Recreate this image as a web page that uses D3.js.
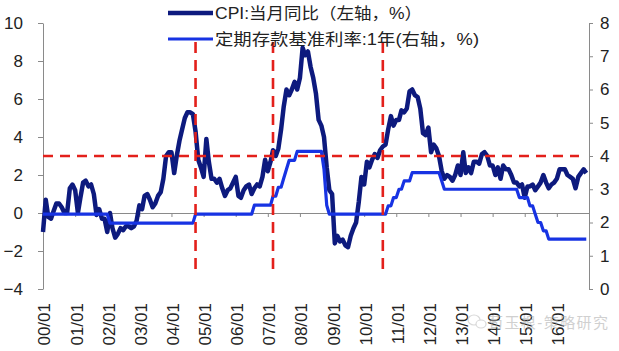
<!DOCTYPE html>
<html>
<head>
<meta charset="utf-8">
<script src="https://cdn.jsdelivr.net/npm/d3@7"></script>
<style>
  body { margin: 0; background: #fff; }
  svg { display: block; }
  text { font-family: "Liberation Sans", Arial, "Noto Sans CJK SC", sans-serif; }
</style>
</head>
<body>
<div id="chart"></div>
<script>
// Monthly series, starting 2000/01 (one row per year)
const firstMonth = "2000-01";

// CPI: year-on-year, % (left axis)
const cpi = [
  -1.0, 0.7, -0.2, -0.3, 0.1, 0.5, 0.5, 0.3, 0.0, 0.0, 1.3, 1.5,
  1.2, 0.0, 0.8, 1.6, 1.7, 1.4, 1.5, 1.0, -0.1, 0.2, -0.3, -0.3,
  -1.0, 0.0, -0.8, -1.3, -1.1, -0.8, -0.9, -0.7, -0.7, -0.8, -0.7, -0.4,
  0.4, 0.2, 0.9, 1.0, 0.7, 0.3, 0.5, 0.9, 1.1, 1.8, 3.0, 3.2,
  3.2, 2.1, 3.0, 3.8, 4.4, 5.0, 5.3, 5.3, 5.2, 4.3, 2.8, 2.4,
  1.9, 3.9, 2.7, 1.8, 1.8, 1.6, 1.8, 1.3, 0.9, 1.2, 1.3, 1.6,
  1.9, 0.9, 0.8, 1.2, 1.4, 1.5, 1.0, 1.3, 1.5, 1.4, 1.9, 2.8,
  2.2, 2.7, 3.3, 3.0, 3.4, 4.4, 5.6, 6.5, 6.2, 6.5, 6.9, 6.5,
  7.1, 8.7, 8.3, 8.5, 7.7, 7.1, 6.3, 4.9, 4.6, 4.0, 2.4, 1.2,
  1.0, -1.6, -1.2, -1.5, -1.4, -1.7, -1.8, -1.2, -0.8, -0.5, 0.6, 1.9,
  1.5, 2.7, 2.4, 2.8, 3.1, 2.9, 3.3, 3.5, 3.6, 4.4, 5.1, 4.6,
  4.9, 4.9, 5.4, 5.3, 5.5, 6.4, 6.5, 6.2, 6.1, 5.5, 4.2, 4.1,
  4.5, 3.2, 3.6, 3.4, 3.0, 2.2, 1.8, 2.0, 1.9, 1.7, 2.0, 2.5,
  2.0, 3.2, 2.1, 2.4, 2.1, 2.7, 2.7, 2.6, 3.1, 3.2, 3.0, 2.5,
  2.5, 2.0, 2.4, 1.8, 2.5, 2.3, 2.3, 2.0, 1.6, 1.6, 1.4, 1.5,
  0.8, 1.4, 1.4, 1.5, 1.2, 1.4, 1.6, 2.0, 1.6, 1.3, 1.5, 1.6,
  1.8, 2.3, 2.3, 2.3, 2.0, 1.9, 1.8, 1.3, 1.9, 2.1, 2.3, 2.1
];

// 1-year time deposit benchmark rate, % (right axis)
const depositRate = [
  2.25, 2.25, 2.25, 2.25, 2.25, 2.25, 2.25, 2.25, 2.25, 2.25, 2.25, 2.25,
  2.25, 2.25, 2.25, 2.25, 2.25, 2.25, 2.25, 2.25, 2.25, 2.25, 2.25, 2.25,
  2.25, 1.98, 1.98, 1.98, 1.98, 1.98, 1.98, 1.98, 1.98, 1.98, 1.98, 1.98,
  1.98, 1.98, 1.98, 1.98, 1.98, 1.98, 1.98, 1.98, 1.98, 1.98, 1.98, 1.98,
  1.98, 1.98, 1.98, 1.98, 1.98, 1.98, 1.98, 1.98, 1.98, 2.25, 2.25, 2.25,
  2.25, 2.25, 2.25, 2.25, 2.25, 2.25, 2.25, 2.25, 2.25, 2.25, 2.25, 2.25,
  2.25, 2.25, 2.25, 2.25, 2.25, 2.25, 2.25, 2.52, 2.52, 2.52, 2.52, 2.52,
  2.52, 2.52, 2.79, 2.79, 3.06, 3.06, 3.33, 3.60, 3.87, 3.87, 3.87, 4.14,
  4.14, 4.14, 4.14, 4.14, 4.14, 4.14, 4.14, 4.14, 4.14, 3.60, 2.52, 2.25,
  2.25, 2.25, 2.25, 2.25, 2.25, 2.25, 2.25, 2.25, 2.25, 2.25, 2.25, 2.25,
  2.25, 2.25, 2.25, 2.25, 2.25, 2.25, 2.25, 2.25, 2.25, 2.50, 2.50, 2.75,
  2.75, 3.00, 3.00, 3.25, 3.25, 3.25, 3.50, 3.50, 3.50, 3.50, 3.50, 3.50,
  3.50, 3.50, 3.50, 3.50, 3.50, 3.25, 3.00, 3.00, 3.00, 3.00, 3.00, 3.00,
  3.00, 3.00, 3.00, 3.00, 3.00, 3.00, 3.00, 3.00, 3.00, 3.00, 3.00, 3.00,
  3.00, 3.00, 3.00, 3.00, 3.00, 3.00, 3.00, 3.00, 3.00, 3.00, 2.75, 2.75,
  2.75, 2.75, 2.50, 2.50, 2.25, 2.00, 2.00, 1.75, 1.75, 1.50, 1.50, 1.50,
  1.50, 1.50, 1.50, 1.50, 1.50, 1.50, 1.50, 1.50, 1.50, 1.50, 1.50, 1.50
];

const xTickLabels = ["00/01", "01/01", "02/01", "03/01", "04/01", "05/01", "06/01", "07/01", "08/01",
  "09/01", "10/01", "11/01", "12/01", "13/01", "14/01", "15/01", "16/01"];
const leftTicks = [-4, -2, 0, 2, 4, 6, 8, 10];
const rightTicks = [0, 1, 2, 3, 4, 5, 6, 7, 8];

// red dashed reference lines
const markerMonths = ["2004-10", "2007-03", "2010-08"];
const cpiThreshold = 3;

const legendNames = ["CPI:当月同比（左轴，%）", "定期存款基准利率:1年(右轴，%)"];
const watermark = "荀玉根-策略研究";

const width = 619, height = 351;
const cpiColor = "#0d1a7e", rateColor = "#1733e3", refColor = "#e3201b", axisColor = "#8a8a8a";
const numFont = "\"Liberation Sans\", Arial, sans-serif";

const parseMonth = d3.timeParse("%Y-%m");
const start = parseMonth(firstMonth);
const cpiData = cpi.map((v, i) => ({ date: d3.timeMonth.offset(start, i), v }));
const rateData = depositRate.map((v, i) => ({ date: d3.timeMonth.offset(start, i), v }));

const x = d3.scaleTime()
  .domain([start, d3.timeYear.offset(start, xTickLabels.length)])
  .range([43, 589]);
const yL = d3.scaleLinear().domain([-4, 10]).range([289, 23]);
const yR = d3.scaleLinear().domain([0, 8]).range([289, 23]);

const svg = d3.select("#chart").append("svg")
  .attr("width", width)
  .attr("height", height);

svg.append("rect").attr("width", width).attr("height", height).attr("fill", "#fff");

// zero line with yearly ticks
const tickDates = xTickLabels.map((_, i) => d3.timeYear.offset(start, i));
svg.append("g")
  .attr("transform", `translate(0,${yL(0)})`)
  .call(d3.axisBottom(x).tickValues(tickDates).tickFormat("").tickSize(4).tickSizeOuter(0))
  .call(g => g.selectAll("line,path").attr("stroke", axisColor));

// rotated month labels at the bottom
svg.append("g").selectAll("text")
  .data(xTickLabels)
  .join("text")
  .attr("transform", (d, i) => `translate(${x(tickDates[i]) + 1.5},303) rotate(-90)`)
  .attr("text-anchor", "end")
  .attr("dy", "0.35em")
  .attr("font-size", 17)
  .attr("fill", "#222")
  .style("font-family", numFont)
  .text(d => d);

// left axis
svg.append("g")
  .attr("transform", "translate(43,0)")
  .call(d3.axisLeft(yL).tickValues(leftTicks).tickSize(5).tickSizeOuter(0).tickPadding(15))
  .call(g => g.selectAll("line,path").attr("stroke", axisColor))
  .call(g => g.selectAll("text").attr("font-size", 17).attr("fill", "#222").style("font-family", numFont));

// right axis
svg.append("g")
  .attr("transform", "translate(589,0)")
  .call(d3.axisRight(yR).tickValues(rightTicks).tickSize(4).tickSizeOuter(0).tickPadding(7))
  .call(g => g.selectAll("line,path").attr("stroke", axisColor))
  .call(g => g.selectAll("text").attr("font-size", 17).attr("fill", "#222").style("font-family", numFont));

// CPI line
svg.append("path")
  .datum(cpiData)
  .attr("fill", "none")
  .attr("stroke", cpiColor)
  .attr("stroke-width", 4.5)
  .attr("stroke-linejoin", "round")
  .attr("d", d3.line().x(d => x(d.date)).y(d => yL(d.v)));

// deposit rate line
svg.append("path")
  .datum(rateData)
  .attr("fill", "none")
  .attr("stroke", rateColor)
  .attr("stroke-width", 3.2)
  .attr("stroke-linejoin", "round")
  .attr("d", d3.line().x(d => x(d.date)).y(d => yR(d.v)));

// reference lines
svg.append("line")
  .attr("x1", 43).attr("x2", 579)
  .attr("y1", yL(cpiThreshold)).attr("y2", yL(cpiThreshold))
  .attr("stroke", refColor).attr("stroke-width", 2.6)
  .attr("stroke-dasharray", "10,7");

svg.append("g").selectAll("line")
  .data(markerMonths)
  .join("line")
  .attr("x1", d => x(parseMonth(d))).attr("x2", d => x(parseMonth(d)))
  .attr("y1", yL(9)).attr("y2", yL(-3))
  .attr("stroke", refColor).attr("stroke-width", 2.6)
  .attr("stroke-dasharray", "11,7");

// legend
const legend = svg.append("g");
const legendRows = [
  { name: legendNames[0], color: cpiColor, w: 4.5, y: 13, len: 207 },
  { name: legendNames[1], color: rateColor, w: 3.2, y: 39, len: 264 }
];
legendRows.forEach(r => {
  legend.append("line")
    .attr("x1", 168).attr("x2", 213)
    .attr("y1", r.y).attr("y2", r.y)
    .attr("stroke", r.color).attr("stroke-width", r.w);
  legend.append("text")
    .attr("x", 215).attr("y", r.y + 6)
    .attr("font-size", 16)
    .attr("fill", "#222")
    .attr("textLength", r.len)
    .attr("lengthAdjust", "spacingAndGlyphs")
    .text(r.name);
});

// faint watermark
const wm = svg.append("g").attr("opacity", 0.55);
wm.append("ellipse").attr("cx", 474).attr("cy", 320).attr("rx", 6).attr("ry", 5)
  .attr("fill", "none").attr("stroke", "#bbb").attr("stroke-width", 1.2);
wm.append("ellipse").attr("cx", 481).attr("cy", 324).attr("rx", 5).attr("ry", 4)
  .attr("fill", "#fff").attr("stroke", "#bbb").attr("stroke-width", 1.2);
wm.append("text")
  .attr("x", 488).attr("y", 328)
  .attr("font-size", 15)
  .attr("fill", "#aaa")
  .attr("textLength", 120)
  .text(watermark);
</script>
</body>
</html>
